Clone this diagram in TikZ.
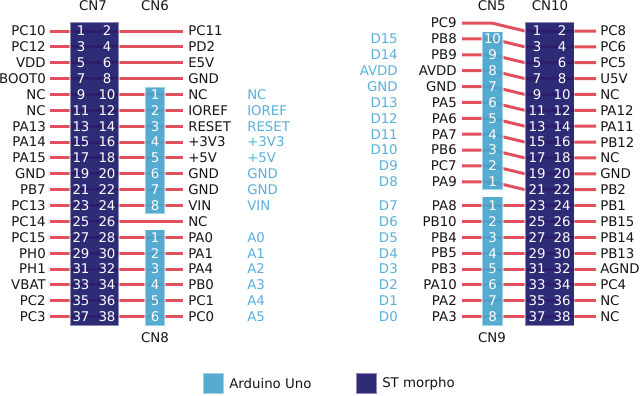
\documentclass[tikz,border=0pt]{standalone}
\usepackage{fontspec}
\setmainfont{DejaVu Sans}
\usetikzlibrary{calc}
\definecolor{morpho}{RGB}{30,28,108}
\definecolor{uno}{RGB}{72,166,204}
\definecolor{unotext}{RGB}{88,176,218}
\definecolor{pinred}{RGB}{226,80,94}
\definecolor{labgray}{RGB}{20,20,20}
\tikzset{
	pinline/.style={draw=pinred, line width=2.25pt},
	lbl/.style={inner sep=0pt, text=labgray, font=\fontsize{10}{11}\selectfont},
	unolbl/.style={lbl, text=unotext},
	num/.style={lbl, text=white},
	morphobox/.style={fill=morpho, fill opacity=0.93, draw=white, draw opacity=0.45, line width=0.8pt},
	unobox/.style={fill=uno, fill opacity=0.93, draw=white, draw opacity=0.45, line width=0.8pt}
}

\begin{document}
\begin{tikzpicture}[x=0.75pt, y=-0.75pt]
			%%%%% START %%%%%
			\useasboundingbox (0,0) rectangle (640,396);
			
			%%%%% LEFT: CN7 / CN6 / CN8 %%%%%
			\foreach \a/\b [count=\i] in {PC10/PC11, PC12/PD2, VDD/E5V, BOOT0/GND, NC/NC, NC/IOREF, PA13/RESET, PA14/+3V3, PA15/+5V, GND/GND, PB7/GND, PC13/VIN, PC14/NC, PC15/PA0, PH0/PA1, PH1/PA4, VBAT/PB0, PC2/PC1, PC3/PC0} {
				\pgfmathsetmacro\y{31+(\i-1)*15.87}
				\node[lbl, anchor=east] (ml\i) at (46,\y) {\a};
				\node[lbl, anchor=west] (mr\i) at (188,\y) {\b};
				\draw[pinline, shorten <=3pt, shorten >=3.75pt] (ml\i.east) -- (mr\i.west);
			}
			\draw[morphobox] (70,22) rectangle (119,325.7);
			\draw[unobox] (145,87) rectangle (165,213.5);
			\draw[unobox] (145,229.5) rectangle (165,325.5);
			\foreach \i in {1,...,19} {
				\pgfmathsetmacro\y{31+(\i-1)*15.87}
				\pgfmathtruncatemacro\p{2*\i-1}
				\pgfmathtruncatemacro\q{2*\i}
				\node[num] (cnseven\p) at (81,\y) {\p};
				\node[num] (cnseven\q) at (107,\y) {\q};
			}
			\foreach \u [count=\i] in {NC, IOREF, RESET, +3V3, +5V, GND, GND, VIN} {
				\pgfmathsetmacro\y{31+(\i+3)*15.87}
				\node[num] (cnsix\i) at (155,\y) {\i};
				\node[unolbl, anchor=west] (unosix\i) at (247,\y) {\u};
			}
			\foreach \u [count=\i] in {A0, A1, A2, A3, A4, A5} {
				\pgfmathsetmacro\y{31+(\i+12)*15.87}
				\node[num] (cneight\i) at (155,\y) {\i};
				\node[unolbl, anchor=west] (unoeight\i) at (247,\y) {\u};
			}
			\node[lbl] (cn7) at (93,6) {CN7};
			\node[lbl] (cn6) at (155,6) {CN6};
			\node[lbl] (cn8) at (155,338) {CN8};
			
			%%%%% RIGHT: CN5 / CN9 / CN10 %%%%%
			\foreach \a/\b [count=\i] in {PC9/PC8, PB8/PC6, PB9/PC5, AVDD/U5V, GND/NC, PA5/PA12, PA6/PA11, PA7/PB12, PB6/NC, PC7/GND, PA9/PB2, PA8/PB1, PB10/PB15, PB4/PB14, PB5/PB13, PB3/AGND, PA10/PC4, PA2/NC, PA3/NC} {
				\pgfmathsetmacro\y{31+(\i-1)*15.87}
				\pgfmathsetmacro\yl{\i<12 ? \y-7.9 : \y}
				\node[lbl, anchor=east] (al\i) at (457,\yl) {\a};
				\node[lbl, anchor=west] (ar\i) at (600,\y) {\b};
				\draw[pinline, shorten <=3.75pt, shorten >=3pt] (al\i.east) -- (492,\yl) -- (525,\y) -- (ar\i.west);
			}
			\draw[unobox] (482,31.7) rectangle (503,190);
			\draw[unobox] (482,196.5) rectangle (503,325.7);
			\draw[morphobox] (525,22) rectangle (574.3,325.7);
			\foreach \i in {1,...,19} {
				\pgfmathsetmacro\y{31+(\i-1)*15.87}
				\pgfmathtruncatemacro\p{2*\i-1}
				\pgfmathtruncatemacro\q{2*\i}
				\node[num] (cnten\p) at (537,\y) {\p};
				\node[num] (cnten\q) at (562,\y) {\q};
			}
			\foreach \u [count=\i] in {D15, D14, AVDD, GND, D13, D12, D11, D10, D9, D8} {
				\pgfmathsetmacro\y{31+\i*15.87-7.9}
				\pgfmathtruncatemacro\n{11-\i}
				\node[num] (cnfive\n) at (492.5,\y) {\n};
				\node[unolbl, anchor=east] (unofive\n) at (398,\y) {\u};
			}
			\foreach \u [count=\i] in {D7, D6, D5, D4, D3, D2, D1, D0} {
				\pgfmathsetmacro\y{31+(\i+10)*15.87}
				\node[num] (cnnine\i) at (492.5,\y) {\i};
				\node[unolbl, anchor=east] (unonine\i) at (398,\y) {\u};
			}
			\node[lbl] (cn5) at (491.7,6) {CN5};
			\node[lbl] (cn10) at (550,6) {CN10};
			\node[lbl] (cn9) at (492,338) {CN9};
			
			%%%%% LEGEND %%%%%
			\draw[unobox] (203,373) rectangle (224,394);
			\node[lbl, anchor=west] (leguno) at (229,384) {Arduino Uno};
			\draw[morphobox] (356,373) rectangle (377,394);
			\node[lbl, anchor=west] (legmorpho) at (382,384) {ST morpho};
			%%%%% END %%%%%
\end{tikzpicture}
\end{document}
